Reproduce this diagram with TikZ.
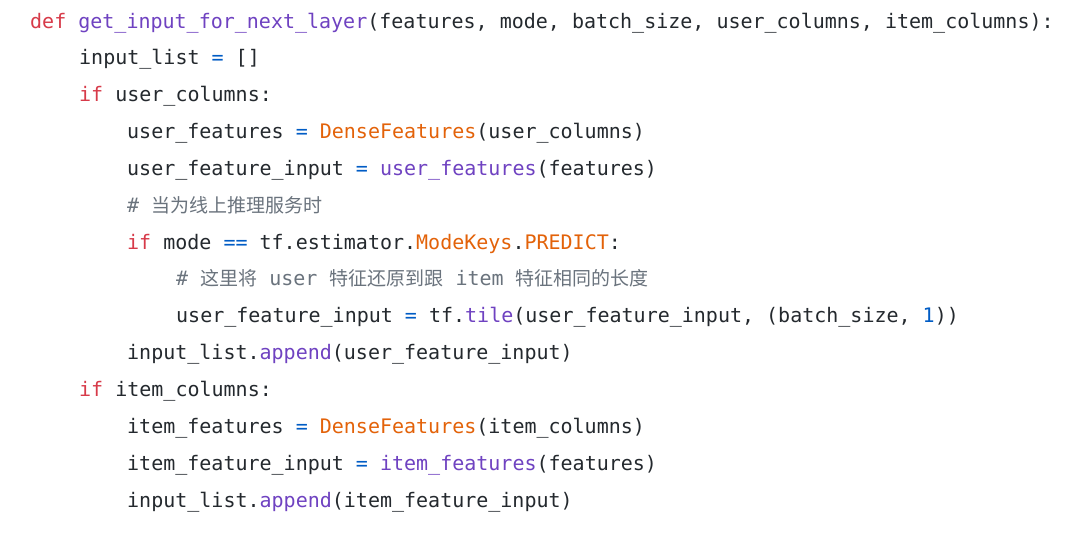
\documentclass[tikz,border=0pt]{standalone}
\usepackage{fontspec}
\setmonofont{DejaVu Sans Mono}
\newfontfamily\cjk{Noto Sans CJK SC}
\definecolor{kw}{HTML}{D73A49}
\definecolor{fn}{HTML}{6F42C1}
\definecolor{cl}{HTML}{E36209}
\definecolor{op}{HTML}{005CC5}
\definecolor{cm}{HTML}{6A737D}
\definecolor{tx}{HTML}{24292E}
\newcommand{\Kw}[1]{\textcolor{kw}{#1}}
\newcommand{\Fn}[1]{\textcolor{fn}{#1}}
\newcommand{\Cl}[1]{\textcolor{cl}{#1}}
\newcommand{\Op}[1]{\textcolor{op}{#1}}
\newcommand{\Zh}[1]{{\cjk\fontsize{19pt}{20pt}\selectfont #1}}
\tikzset{ln/.style={anchor=base west,inner sep=0,text=tx,font=\ttfamily\fontsize{20pt}{24pt}\selectfont}}
\begin{document}
\begin{tikzpicture}[x=1pt,y=-1pt]
\useasboundingbox[fill=white] (0,0) rectangle (1080,533);
\def\L{36.85}
\node[ln] (l1) at (30,28) {\Kw{def} \Fn{get\_input\_for\_next\_layer}(features, mode, batch\_size, user\_columns, item\_columns):};
\node[ln] (l2) at (79,28+\L) {input\_list \Op{=} []};
\node[ln] (l3) at (79,28+2*\L) {\Kw{if} user\_columns:};
\node[ln] (l4) at (127,28+3*\L) {user\_features \Op{=} \Cl{DenseFeatures}(user\_columns)};
\node[ln] (l5) at (127,28+4*\L) {user\_feature\_input \Op{=} \Fn{user\_features}(features)};
\node[ln,text=cm] (l6) at (127,28+5*\L) {\# \Zh{当为线上推理服务时}};
\node[ln] (l7) at (127,28+6*\L) {\Kw{if} mode \Op{==} tf.estimator.\Cl{ModeKeys}.\Cl{PREDICT}:};
\node[ln,text=cm] (l8) at (176,28+7*\L) {\# \Zh{这里将} user \Zh{特征还原到跟} item \Zh{特征相同的长度}};
\node[ln] (l9) at (176,28+8*\L) {user\_feature\_input \Op{=} tf.\Fn{tile}(user\_feature\_input, (batch\_size, \Op{1}))};
\node[ln] (l10) at (127,28+9*\L) {input\_list.\Fn{append}(user\_feature\_input)};
\node[ln] (l11) at (79,28+10*\L) {\Kw{if} item\_columns:};
\node[ln] (l12) at (127,28+11*\L) {item\_features \Op{=} \Cl{DenseFeatures}(item\_columns)};
\node[ln] (l13) at (127,28+12*\L) {item\_feature\_input \Op{=} \Fn{item\_features}(features)};
\node[ln] (l14) at (127,28+13*\L) {input\_list.\Fn{append}(item\_feature\_input)};
\end{tikzpicture}
\end{document}
